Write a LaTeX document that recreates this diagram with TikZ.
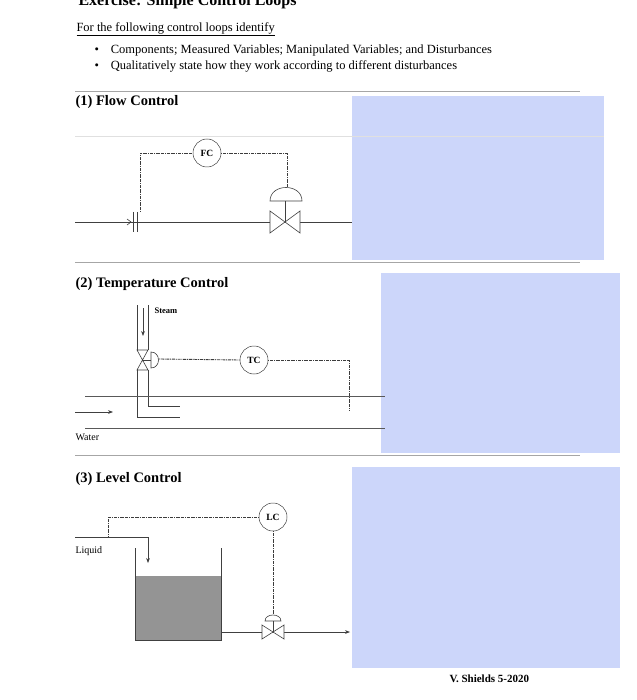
\documentclass[tikz,border=0pt]{standalone}
\usepackage{fontspec}
\setmainfont{Liberation Serif}
\usetikzlibrary{arrows.meta}
\definecolor{bluebox}{RGB}{204,214,250}
\definecolor{sig}{RGB}{60,60,60}
\begin{document}
\begin{tikzpicture}[x=1pt,y=-1pt,
  pipe/.style={draw=black!75,line width=0.6pt},
  sigline/.style={draw=sig,line width=0.9pt,dash pattern=on 1pt off 0.8pt on 3pt off 0.8pt},
  ctrl/.style={circle,draw=black!75,line width=0.5pt,minimum size=28pt,inner sep=0pt,font=\fontsize{9.5}{10}\selectfont\bfseries},
  sect/.style={anchor=west,font=\fontsize{14.5}{16}\selectfont\bfseries},
  sep/.style={draw=black!35,line width=0.5pt},
  box/.style={fill=bluebox,draw=none}]
\useasboundingbox (0,0) rectangle (636,700);
\begin{scope}
\clip (0,0) rectangle (636,700);
\node[anchor=west,font=\fontsize{16}{18}\selectfont\bfseries] (title) at (75,2) {Exercise: Simple Control Loops};
\end{scope}
\node[anchor=west,font=\fontsize{12.5}{14}\selectfont] (intro) at (73,29) {\underline{For the following control loops identify}};
\node[anchor=west,font=\fontsize{12.5}{14}\selectfont] (b1) at (91,50) {\textbullet\hspace{12pt}Components; Measured Variables; Manipulated Variables; and Disturbances};
\node[anchor=west,font=\fontsize{12.5}{14}\selectfont] (b2) at (91,66) {\textbullet\hspace{12pt}Qualitatively state how they work according to different disturbances};
\draw[sep] (75,91) -- (580,91);
% ---------- section 1
\fill[box] (352,96) rectangle (604,260);
\draw[draw=black!12] (75,136) -- (604,136);
\node[sect] (s1) at (72,102) {(1) Flow Control};
\draw[pipe] (75,222) -- (352,222);
\draw[pipe] (133,212) -- (133,232) (137,212) -- (137,232);
\draw[pipe] (127,219) -- (131,222) -- (127,225);
\draw[pipe,fill=white] (270,211) -- (300,233) -- (300,211) -- (270,233) -- cycle;
\draw[pipe] (285,201) -- (285,222);
\draw[pipe,fill=white] (270,201) .. controls (270,183) and (302,183) .. (302,201) -- cycle;
\node[ctrl] (fc) at (207,153) {FC};
\coordinate (fo) at (140,212);
\coordinate (fv) at (287,187);
\draw[sigline] (fo) |- (fc.west);
\draw[sigline] (fc.east) -| (fv);
\draw[sep] (75,262) -- (580,262);
% ---------- section 2
\fill[box] (381,273) rectangle (620,453);
\node[sect] (s2) at (72,284) {(2) Temperature Control};
\draw[pipe] (137,305) -- (137,350) (148,305) -- (148,350);
\draw[pipe,-{Stealth[length=5pt]}] (143,308) -- (143,336);
\node[anchor=west,font=\fontsize{8.5}{9}\selectfont\bfseries] (steam) at (151,311) {Steam};
\draw[pipe,fill=white] (137,350) -- (148,370) -- (137,370) -- (148,350) -- cycle;
\draw[pipe] (142.5,360) -- (151,360);
\draw[pipe,fill=white] (151,352) .. controls (161,352) and (161,368) .. (151,368) -- cycle;
\draw[pipe] (137,370) -- (137,417) -- (180,417);
\draw[pipe] (148,370) -- (148,406) -- (180,406);
\draw[draw=black!65,line width=0.5pt] (85,396) -- (385,396) (85,428) -- (385,428);
\draw[pipe,-{Stealth[length=5pt]}] (75,412) -- (113,412);
\node[anchor=west,font=\fontsize{10}{11}\selectfont] (water) at (72,437) {Water};
\node[ctrl] (tc) at (254,360) {TC};
\coordinate (tv) at (159,359);
\coordinate (ts) at (349,410);
\draw[sigline] (tv) -- (tc.west);
\draw[sigline] (tc.east) -| (ts);
\draw[sep] (75,455) -- (580,455);
% ---------- section 3
\fill[box] (352,467) rectangle (620,668);
\node[sect] (s3) at (72,479) {(3) Level Control};
\draw[pipe,-{Stealth[length=5pt]}] (75,537) -- (148,537) -- (148,563);
\node[anchor=west,font=\fontsize{10}{11}\selectfont] (liquid) at (72,551) {Liquid};
\fill[black!42] (135,576) rectangle (221,640);
\draw[pipe] (135,548) -- (135,640) -- (221,640) -- (221,548);
\draw[pipe,-{Stealth[length=5pt]}] (221,632) -- (350,632);
\draw[pipe,fill=white] (262,625) -- (284,639) -- (284,625) -- (262,639) -- cycle;
\draw[pipe] (273,621) -- (273,632);
\draw[pipe,fill=white] (265,621) .. controls (265,613) and (281,613) .. (281,621) -- cycle;
\node[ctrl] (lc) at (273,517) {LC};
\coordinate (lp) at (108,537);
\coordinate (lv) at (273,615);
\draw[sigline] (lc.west) -| (lp);
\draw[sigline] (lc.south) -- (lv);
\node[anchor=west,font=\fontsize{11}{12}\selectfont\bfseries] (credit) at (446,679) {V. Shields 5-2020};
\end{tikzpicture}
\end{document}
